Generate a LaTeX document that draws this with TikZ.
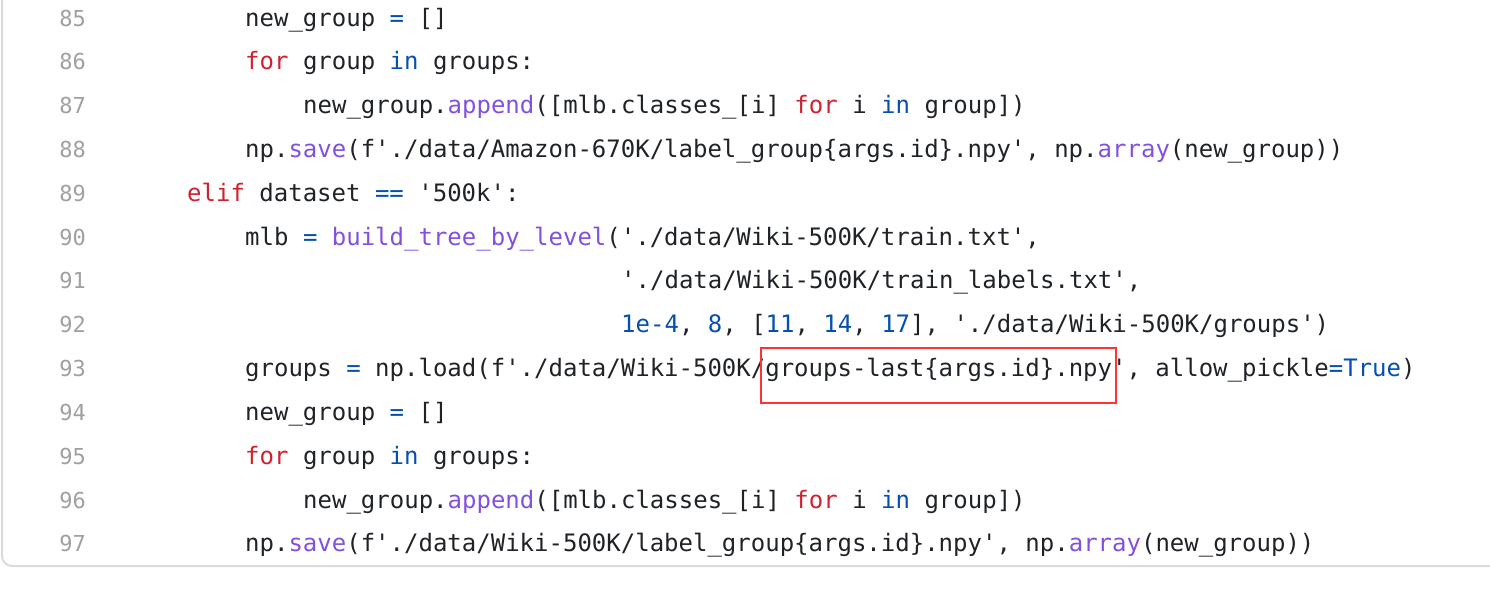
\documentclass[tikz,border=0pt]{standalone}
\usepackage{fontspec}
\setmonofont{DejaVu Sans Mono}
\definecolor{txt}{HTML}{1F2328}
\definecolor{kred}{HTML}{CF222E}
\definecolor{kblue}{HTML}{0550AE}
\definecolor{kpur}{HTML}{8250DF}
\definecolor{lnum}{HTML}{A0A0A0}
\definecolor{frame}{HTML}{D8DCE0}
\newcommand{\cR}[1]{\textcolor{kred}{#1}}
\newcommand{\cB}[1]{\textcolor{kblue}{#1}}
\newcommand{\cP}[1]{\textcolor{kpur}{#1}}
\newcommand{\q}{\char39\relax}
\begin{document}
\begin{tikzpicture}[x=1pt,y=-1pt,
  code/.style={anchor=base west,inner sep=0pt,font=\ttfamily\fontsize{24}{24}\selectfont,text=txt},
  num/.style={anchor=base east,inner sep=0pt,font=\ttfamily\fontsize{22}{22}\selectfont,text=lnum}]
\useasboundingbox (0,0) rectangle (1490,589);
\begin{scope}
\clip (0,0) rectangle (1490,589);
\draw[frame,line width=2pt,rounded corners=10pt] (2,-20) rectangle (1520,566);
\end{scope}
\foreach \n [count=\i from 0] in {85,...,97}
  \node[num] (n\n) at (86,{26+43.83*\i}) {\n};
\def\Y#1{{26+43.83*(#1-85)}}
\node[code] (l85) at (245,\Y{85}) {new\_group \cB{=} []};
\node[code] (l86) at (245,\Y{86}) {\cR{for} group \cB{in} groups:};
\node[code] (l87) at (303,\Y{87}) {new\_group.\cP{append}([mlb.classes\_[i] \cR{for} i \cB{in} group])};
\node[code] (l88) at (245,\Y{88}) {np.\cP{save}(f\q./data/Amazon-670K/label\_group\{args.id\}.npy\q, np.\cP{array}(new\_group))};
\node[code] (l89) at (187,\Y{89}) {\cR{elif} dataset \cB{==} \q500k\q:};
\node[code] (l90) at (245,\Y{90}) {mlb \cB{=} \cP{build\_tree\_by\_level}(\q./data/Wiki-500K/train.txt\q,};
\node[code] (l91) at (621,\Y{91}) {\q./data/Wiki-500K/train\_labels.txt\q,};
\node[code] (l92) at (621,\Y{92}) {\cB{1e-4}, \cB{8}, [\cB{11}, \cB{14}, \cB{17}], \q./data/Wiki-500K/groups\q)};
\node[code] (l93) at (245,\Y{93}) {groups \cB{=} np.load(f\q./data/Wiki-500K/groups-last\{args.id\}.npy\q, allow\_pickle\cB{=}\cB{True})};
\node[code] (l94) at (245,\Y{94}) {new\_group \cB{=} []};
\node[code] (l95) at (245,\Y{95}) {\cR{for} group \cB{in} groups:};
\node[code] (l96) at (303,\Y{96}) {new\_group.\cP{append}([mlb.classes\_[i] \cR{for} i \cB{in} group])};
\node[code] (l97) at (245,\Y{97}) {np.\cP{save}(f\q./data/Wiki-500K/label\_group\{args.id\}.npy\q, np.\cP{array}(new\_group))};
\draw[red!80!white,line width=2.5pt] (761,348) rectangle (1116,403);
\end{tikzpicture}
\end{document}
